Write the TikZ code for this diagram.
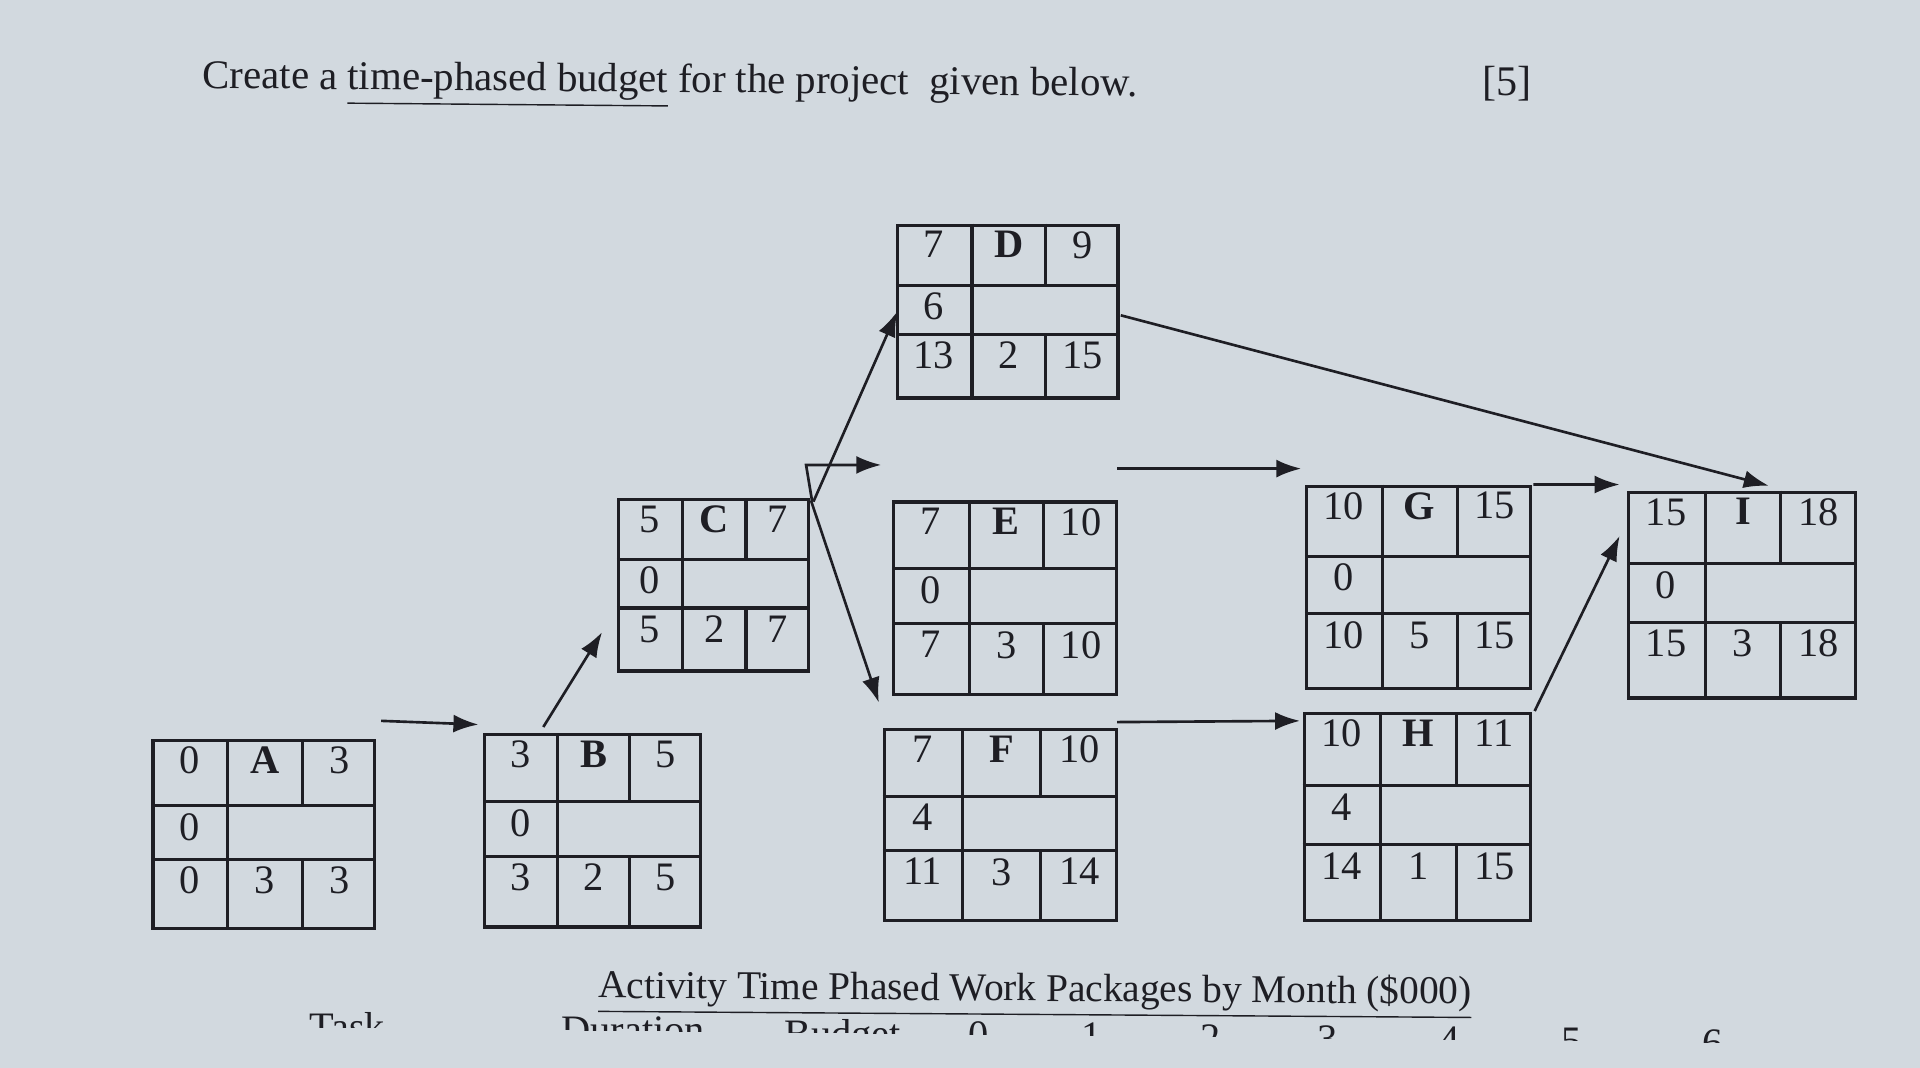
\documentclass[tikz,border=0pt]{standalone}
\usepackage{fontspec}
\setmainfont{Liberation Serif}
\usepackage{tikz}
\usetikzlibrary{arrows.meta,calc,fit}

\definecolor{paper}{RGB}{210,217,223}
\definecolor{ink}{RGB}{30,30,36}

% one activity box: node, ES, name, EF, slack, LS, dur, LF
\newcommand{\actcells}[8]{%
  \coordinate (#1r1) at ($(#1.north west)!0.35!(#1.south west)$);
  \coordinate (#1r2) at ($(#1.north west)!0.63!(#1.south west)$);
  \coordinate (#1c1) at ($(#1.north west)!0.34!(#1.north east)$);
  \coordinate (#1c2) at ($(#1.north west)!0.67!(#1.north east)$);
  \draw[cell] (#1r1) -- (#1r1 -| #1.east);
  \draw[cell] (#1r2) -- (#1r2 -| #1.east);
  \draw[cell] (#1c1) -- (#1c1 |- #1.south);
  \draw[cell] (#1c2) -- (#1c2 |- #1r1);
  \draw[cell] (#1c2 |- #1r2) -- (#1c2 |- #1.south);
  \node[num] (#1es) at ($(#1.north west)!0.5!(#1c1)$) {#2};
  \node[num] (#1nm) at ($(#1c1)!0.5!(#1c2)$) {\textbf{#3}};
  \node[num] (#1ef) at ($(#1c2)!0.5!(#1.north east)$) {#4};
  \node[num] (#1sl) at ($(#1r1)!0.5!(#1c1 |- #1r1)$) {#5};
  \node[num] (#1ls) at ($(#1r2)!0.5!(#1c1 |- #1r2)$) {#6};
  \node[num] (#1du) at ($(#1c1 |- #1r2)!0.5!(#1c2 |- #1r2)$) {#7};
  \node[num] (#1lf) at ($(#1c2 |- #1r2)!0.5!(#1r2 -| #1.east)$) {#8};
}

\begin{document}
\begin{tikzpicture}[x=0.12245mm,y=-0.12245mm,
    every node/.style={text=ink,font=\fontsize{11.5}{13}\selectfont},
    actbox/.style={draw=ink,line width=0.9pt,inner sep=0pt},
    cell/.style={draw=ink,line width=0.9pt},
    num/.style={anchor=north,inner sep=2pt},
    arr/.style={-{Latex[length=2.5mm,width=1.8mm]},draw=ink,line width=0.75pt}]
  \fill[paper] (0,0) rectangle (1568,872);
  \useasboundingbox (0,0) rectangle (1568,872);

  % question
  \node[anchor=base west,inner sep=0pt,rotate=-0.5,font=\fontsize{11.6}{14}\selectfont] (question) at (165,72)
    {Create a \underline{time-phased budget} for the project\ \ given below.};
  \node[anchor=base west,inner sep=0pt,font=\fontsize{12}{14}\selectfont] (marks) at (1210,78) {[5]};

  % activity boxes, corners
  \node[actbox,fit={(125,605) (306,758)}] (A) {};
  \node[actbox,fit={(396,600) (572,757)}] (B) {};
  \node[actbox,fit={(505,408) (660,548)}] (C) {};
  \node[actbox,fit={(733,184) (913,325)}] (D) {};
  \node[actbox,fit={(730,410) (912,567)}] (E) {};
  \node[actbox,fit={(722,596) (912,752)}] (F) {};
  \node[actbox,fit={(1067,397) (1250,562)}] (G) {};
  \node[actbox,fit={(1065,583) (1250,752)}] (H) {};
  \node[actbox,fit={(1330,402) (1515,570)}] (I) {};

  \actcells{A}{0}{A}{3}{0}{0}{3}{3}
  \actcells{B}{3}{B}{5}{0}{3}{2}{5}
  \actcells{C}{5}{C}{7}{0}{5}{2}{7}
  \actcells{D}{7}{D}{9}{6}{13}{2}{15}
  \actcells{E}{7}{E}{10}{0}{7}{3}{10}
  \actcells{F}{7}{F}{10}{4}{11}{3}{14}
  \actcells{G}{10}{G}{15}{0}{10}{5}{15}
  \actcells{H}{10}{H}{11}{4}{14}{1}{15}
  \actcells{I}{15}{I}{18}{0}{15}{3}{18}

  % precedence arrows
  \draw[arr] ([shift={(4,-15)}]A.north east) -- ([shift={(-4,-7)}]B.north west);
  \draw[arr] ([shift={(49,-5)}]B.north west) -- ([shift={(-12,-33)}]C.south west);
  \draw[arr] ([shift={(3,3)}]C.north east) -- ([shift={(1,0)}]D.west);
  \draw[arr] ([shift={(2,3)}]C.north east) -- ([shift={(-3,-27)}]C.north east) -- ([shift={(-9,-29)}]E.north west);
  \draw[arr] ([shift={(1,2)}]C.north east) -- ([shift={(-3,-21)}]F.north west);
  \draw[arr] ([shift={(1,3)}]D.east) -- ([shift={(22,-4)}]I.north);
  \draw[arr] ([shift={(-1,-26)}]E.north east) -- ([shift={(-3,-13)}]G.north west);
  \draw[arr] ([shift={(-1,-5)}]F.north east) -- ([shift={(-2,7)}]H.north west);
  \draw[arr] ([shift={(1,0)}]G.north east) -- ([shift={(-6,-5)}]I.north west);
  \draw[arr] ([shift={(2,-1)}]H.north east) -- ([shift={(-6,37)}]I.north west);

  % table heading, the row under it is cut off by the page edge
  \node[anchor=base west,inner sep=0pt,rotate=-0.4,font=\fontsize{11.2}{13}\selectfont] (heading) at (488,815)
    {\underline{Activity Time Phased Work Packages by Month (\$000)}};
  \begin{scope}
    \clip (0,0) -- (1568,0) -- (1568,853) -- (0,836) -- cycle;
    \foreach \x/\y/\t [count=\i] in {252/826/Task,458/830/Duration,640/832/Budget,
        790/834/0,883/835/1,980/836/2,1075/837/3,1175/838/4,1275/839/5,1390/840/6}
      \node[anchor=north west,inner sep=0pt] (col\i) at (\x,\y) {\t};
  \end{scope}
\end{tikzpicture}
\end{document}
